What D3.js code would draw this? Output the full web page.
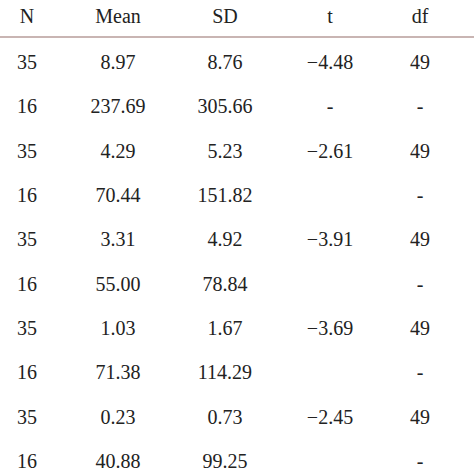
<!DOCTYPE html><html><head><meta charset="utf-8"><script src="https://cdn.jsdelivr.net/npm/d3@7"></script>
<style>body{margin:0;background:#fff}</style></head><body><script>
const headers=["N","Mean","SD","t","df"];
const nVals=["35","16","35","16","35","16","35","16","35","16"];
const meanVals=["8.97","237.69","4.29","70.44","3.31","55.00","1.03","71.38","0.23","40.88"];
const sdVals=["8.76","305.66","5.23","151.82","4.92","78.84","1.67","114.29","0.73","99.25"];
const tVals=["\u22124.48","-","\u22122.61","","\u22123.91","","\u22123.69","","\u22122.45",""];
const dfVals=["49","-","49","-","49","-","49","-","49","-"];
const cols=[nVals,meanVals,sdVals,tVals,dfVals];
const W=474,H=474;
const svg=d3.select("body").append("svg").attr("width",W).attr("height",H);
const xs={N:27,Mean:118,SD:225,t:330,df:420};
const y=d3.scaleLinear().domain([0,9]).range([62,461]);
const g=svg.append("g").attr("font-family","Liberation Serif, serif").attr("font-size",20).attr("fill","#222").attr("text-anchor","middle");
headers.forEach(h=>g.append("text").attr("x",xs[h]).attr("y",16).attr("dy","0.35em").text(h));
svg.append("line").attr("x1",0).attr("x2",W).attr("y1",37).attr("y2",37).attr("stroke","#c9b5b3").attr("stroke-width",2);
headers.forEach((h,ci)=>{
  g.selectAll(null).data(cols[ci]).enter().append("text")
   .attr("x",xs[h]).attr("y",(d,i)=>y(i)).attr("dy","0.35em").text(d=>d);
});
</script></body></html>
